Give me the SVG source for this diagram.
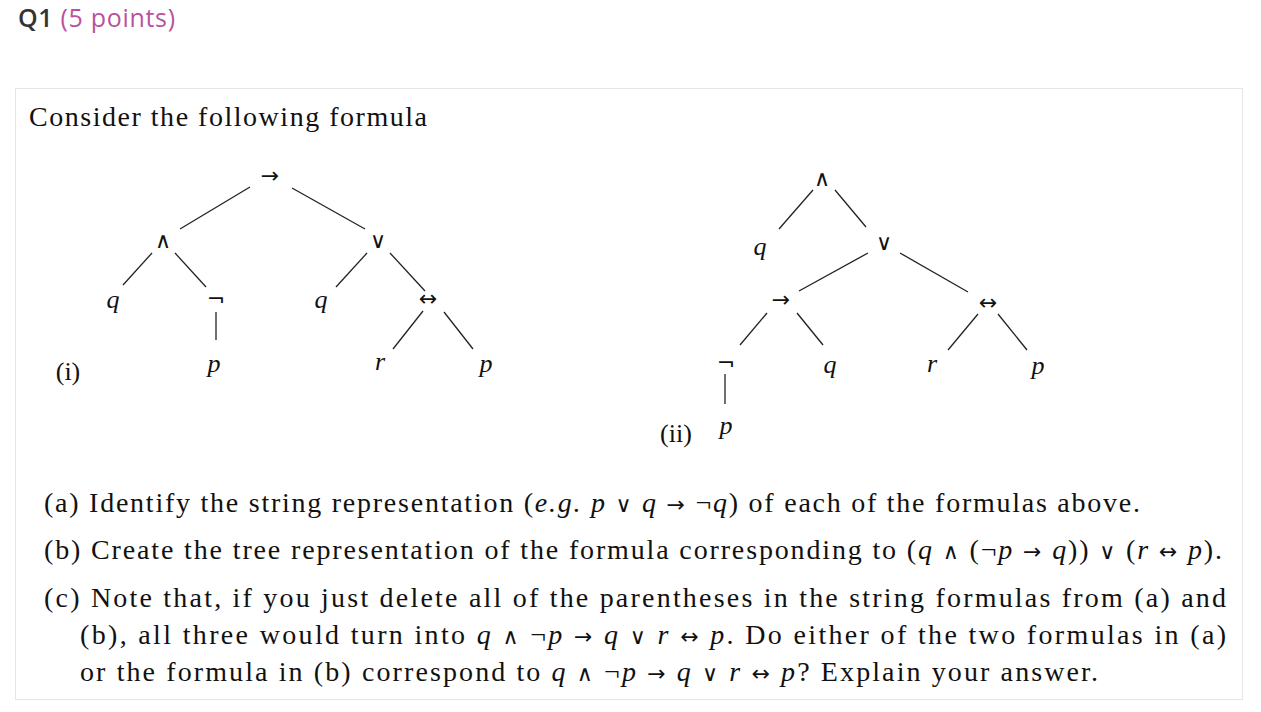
<svg xmlns="http://www.w3.org/2000/svg" width="1261" height="712" viewBox="0 0 1261 712">
<style>
.t{font-family:"Liberation Serif","DejaVu Serif",serif;font-size:28px;fill:#111}
.n{font-family:"Liberation Serif","DejaVu Serif",serif;font-size:26px;fill:#111;text-anchor:middle}
.i{font-style:italic}
.s{font-family:"DejaVu Sans",sans-serif;font-size:22px}
line{stroke:#222;stroke-width:1.3}
</style>
<rect width="1261" height="712" fill="#fff"/>
<text x="18" y="27" font-family="'Open Sans','Noto Sans',sans-serif" font-size="25" fill="#333" font-weight="600" textLength="157">Q1 <tspan fill="#b9529f" font-weight="400">(5 points)</tspan></text>
<rect x="15.5" y="88.5" width="1227" height="611" fill="none" stroke="#e6e6e6"/>
<text class="t" x="29" y="126" textLength="398">Consider the following formula</text>
<g id="connectors">
<line x1="250" y1="187" x2="180" y2="229"/><line x1="292" y1="188" x2="365" y2="229"/>
<line x1="152" y1="253" x2="123" y2="285"/><line x1="175" y1="253" x2="206" y2="287"/>
<line x1="216" y1="312" x2="216" y2="340"/>
<line x1="367" y1="253" x2="336" y2="287"/><line x1="390" y1="253" x2="425" y2="291"/>
<line x1="423" y1="311" x2="393" y2="349"/><line x1="444" y1="312" x2="473" y2="349"/>
<line x1="813" y1="190" x2="779" y2="229"/><line x1="835" y1="190" x2="866" y2="227"/>
<line x1="868" y1="253" x2="799" y2="291"/><line x1="900" y1="253" x2="968" y2="292"/>
<line x1="767" y1="313" x2="740" y2="345"/><line x1="797" y1="313" x2="823" y2="345"/>
<line x1="725" y1="374" x2="725" y2="404"/>
<line x1="978" y1="314" x2="948" y2="350"/><line x1="998" y1="314" x2="1027" y2="350"/>
</g>
<g id="tree1">
<text class="n s" x="270" y="183">→</text>
<text class="n s" x="163" y="248">∧</text>
<text class="n i" x="113" y="308">q</text>
<text class="n s" x="216" y="306">¬</text>
<text class="n i" x="214" y="372">p</text>
<text class="n s" x="378" y="248">∨</text>
<text class="n i" x="321" y="308">q</text>
<text class="n s" x="428" y="306">↔</text>
<text class="n i" x="380" y="370">r</text>
<text class="n i" x="486" y="372">p</text>
<text class="n" x="68" y="380">(i)</text>
</g>
<g id="tree2">
<text class="n s" x="822" y="186">∧</text>
<text class="n i" x="760" y="255">q</text>
<text class="n s" x="884" y="250">∨</text>
<text class="n s" x="781" y="307">→</text>
<text class="n s" x="726" y="370">¬</text>
<text class="n i" x="726" y="434">p</text>
<text class="n i" x="830" y="373">q</text>
<text class="n s" x="988" y="310">↔</text>
<text class="n i" x="932" y="372">r</text>
<text class="n i" x="1038" y="374">p</text>
<text class="n" x="676" y="442">(ii)</text>
</g>
<g id="questions">
<text class="t" x="44" y="512" textLength="1096">(a) Identify the string representation (<tspan class="i">e.g. p</tspan> <tspan class="s">∨</tspan> <tspan class="i">q</tspan> <tspan class="s">→</tspan> ¬<tspan class="i">q</tspan>) of each of the formulas above.</text>
<text class="t" x="44" y="559" textLength="1178">(b) Create the tree representation of the formula corresponding to (<tspan class="i">q</tspan> <tspan class="s">∧</tspan> (¬<tspan class="i">p</tspan> <tspan class="s">→</tspan> <tspan class="i">q</tspan>)) <tspan class="s">∨</tspan> (<tspan class="i">r</tspan> <tspan class="s">↔</tspan> <tspan class="i">p</tspan>).</text>
<text class="t" x="44" y="607" textLength="1182">(c) Note that, if you just delete all of the parentheses in the string formulas from (a) and</text>
<text class="t" x="80" y="644" textLength="1146">(b), all three would turn into <tspan class="i">q</tspan> <tspan class="s">∧</tspan> ¬<tspan class="i">p</tspan> <tspan class="s">→</tspan> <tspan class="i">q</tspan> <tspan class="s">∨</tspan> <tspan class="i">r</tspan> <tspan class="s">↔</tspan> <tspan class="i">p</tspan>. Do either of the two formulas in (a)</text>
<text class="t" x="80" y="681" textLength="1018">or the formula in (b) correspond to <tspan class="i">q</tspan> <tspan class="s">∧</tspan> ¬<tspan class="i">p</tspan> <tspan class="s">→</tspan> <tspan class="i">q</tspan> <tspan class="s">∨</tspan> <tspan class="i">r</tspan> <tspan class="s">↔</tspan> <tspan class="i">p</tspan>? Explain your answer.</text>
</g>
</svg>
